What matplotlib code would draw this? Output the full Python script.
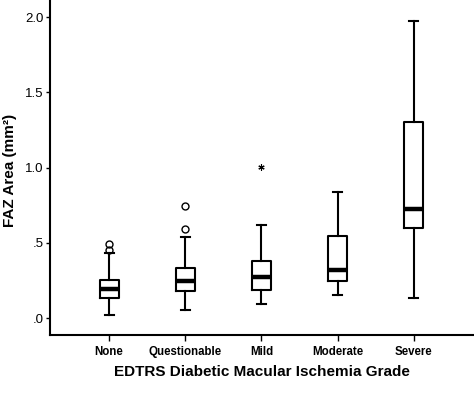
import numpy as np
import matplotlib
matplotlib.use("Agg")
import matplotlib.pyplot as plt

# EDTRS grades and box summary values
grades = ["None", "Questionable", "Mild", "Moderate", "Severe"]
whislo = [0.02, 0.055, 0.093, 0.153, 0.135]
q1 = [0.13, 0.18, 0.188, 0.246, 0.598]
med = [0.19, 0.245, 0.275, 0.319, 0.722]
q3 = [0.255, 0.33, 0.377, 0.545, 1.302]
whishi = [0.43, 0.54, 0.616, 0.837, 1.975]
outliers = [[0.455, 0.49], [0.59, 0.745], [], [], []]
extremes = [[], [], [1.005], [], []]

yticks = [0.0, 0.5, 1.0, 1.5, 2.0]
yticklabels = [".0", ".5", "1.0", "1.5", "2.0"]

plt.rcParams['font.family'] = ['Liberation Sans', 'DejaVu Sans']

fig = plt.figure(figsize=(4.74, 3.94), dpi=100)
ax = fig.add_axes([0.1055, 0.1497, 0.8945, 0.8503])

stats = []
for i in range(len(grades)):
    stats.append({"med": med[i], "q1": q1[i], "q3": q3[i],
                  "whislo": whislo[i], "whishi": whishi[i],
                  "fliers": outliers[i], "label": grades[i]})

pos = np.arange(1, len(grades) + 1)
ax.bxp(stats, positions=pos, widths=0.25, showfliers=True,
       boxprops=dict(color="black", linewidth=1.5),
       medianprops=dict(color="black", linewidth=3.2, solid_capstyle="butt"),
       whiskerprops=dict(color="black", linewidth=1.5),
       capprops=dict(color="black", linewidth=1.5),
       capwidths=0.12,
       flierprops=dict(marker="o", markerfacecolor="none",
                       markeredgecolor="black", markersize=5, markeredgewidth=1))

# extreme values drawn as asterisks, like SPSS
for i, ex in enumerate(extremes):
    if ex:
        ax.plot([pos[i]] * len(ex), ex, linestyle="none", marker=(6, 2, 0),
                color="black", markersize=4.5, markeredgewidth=0.8)

ax.set_xlim(0.224, 5.79)
ax.set_ylim(-0.113, 2.113)
ax.set_yticks(yticks)
ax.set_yticklabels(yticklabels, fontsize=9.5)
ax.set_xticks(pos)
ax.set_xticklabels(grades, fontsize=8.3, fontweight="bold")

ax.spines["top"].set_visible(False)
ax.spines["right"].set_visible(False)
ax.spines["left"].set_linewidth(1.5)
ax.spines["bottom"].set_linewidth(1.5)
ax.tick_params(axis="y", length=3, width=1, pad=1.5)
ax.tick_params(axis="x", length=4, width=1, pad=4)

ax.set_ylabel("FAZ Area (mm²)", fontsize=11, fontweight="bold")
ax.yaxis.set_label_coords(-0.078, 0.49)
ax.set_xlabel("EDTRS Diabetic Macular Ischemia Grade", fontsize=11, fontweight="bold", labelpad=5)

fig.savefig("out.png", dpi=100)
